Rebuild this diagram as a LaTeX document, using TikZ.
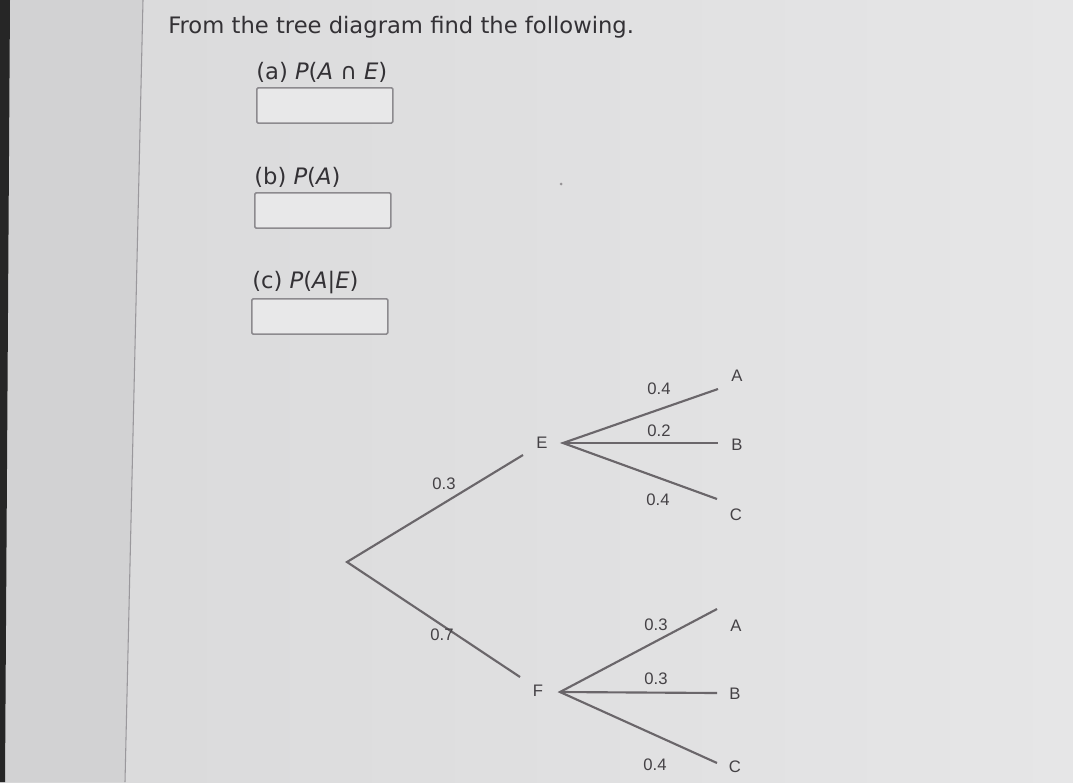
\documentclass[tikz,border=0pt]{standalone}
\usepackage{fontspec}
\setmainfont{DejaVu Sans}
\newfontfamily\treefont{Liberation Sans}
\definecolor{txt}{HTML}{333135}
\definecolor{treeline}{HTML}{6A666A}
\definecolor{treetxt}{HTML}{444145}
\definecolor{boxline}{HTML}{8C8A8E}
\definecolor{bgleft}{HTML}{D2D2D3}
\definecolor{bgmid}{HTML}{D9D9DA}
\definecolor{bgright}{HTML}{E6E6E7}
\begin{document}
\begin{tikzpicture}[x=0.75pt,y=-0.75pt,
  qtext/.style={anchor=west,inner sep=0pt,text=txt,font=\fontsize{17}{20}\selectfont},
  ansbox/.style={draw=boxline,line width=1.2pt,rounded corners=1pt,fill=bgmid!60!white,minimum width=102pt,minimum height=26.5pt,inner sep=0pt,anchor=north west},
  lbl/.style={inner sep=0pt,text=treetxt,font=\treefont\fontsize{12.5}{14}\selectfont},
  branch/.style={draw=treeline,line width=1.6pt}]
\useasboundingbox (0,0) rectangle (1073,782);
% background
\shade[left color=bgmid,right color=bgright] (0,0) rectangle (1073,782);
\fill[bgleft] (0,0) -- (143,0) -- (125,782) -- (0,782) -- cycle;
\draw[boxline!80!bgleft,line width=0.8pt] (143,0) -- (125,782);
\fill[black!85] (0,0) -- (10,0) -- (5,782) -- (0,782) -- cycle;
% questions
\node[qtext] (title) at (168,27) {From the tree diagram find the following.};
\node[qtext] (qa) at (256,72) {(a) \textit{P}(\textit{A} ∩ \textit{E})};
\node[ansbox] (ba) at (256,87) {};
\node[qtext] (qb) at (254,177) {(b) \textit{P}(\textit{A})};
\node[ansbox] (bb) at (254,192) {};
\node[qtext] (qc) at (252,283) {(c) \textit{P}(\textit{A}|\textit{E})};
\node[ansbox] (bc) at (251,298) {};
\fill[treeline!70] (561,184) circle (1.5);
% tree coordinates
\coordinate (root) at (347,562);
\coordinate (Ein) at (523,455);
\coordinate (Eout) at (563,443);
\coordinate (EA) at (718,389);
\coordinate (EB) at (718,443);
\coordinate (EC) at (717,499);
\coordinate (Fin) at (520,677);
\coordinate (Fout) at (560,692);
\coordinate (FA) at (717,609);
\coordinate (FB) at (717,693);
\coordinate (FC) at (717,763);
% branches
\draw[branch] (Ein) -- (root) -- (Fin);
\draw[branch] (EA) -- (Eout) -- (EC);
\draw[branch] (Eout) -- (EB);
\draw[branch] (FA) -- (Fout) -- (FC);
\draw[branch] (Fout) -- (FB);
% labels
\node[lbl] (E) at (542,443) {E};
\node[lbl] (F) at (538,691) {F};
\node[lbl] (EAl) at (737,376) {A};
\node[lbl] (EBl) at (737,445) {B};
\node[lbl] (ECl) at (736,515) {C};
\node[lbl] (FAl) at (736,626) {A};
\node[lbl] (FBl) at (735,694) {B};
\node[lbl] (FCl) at (735,767) {C};
\node[lbl] (pE) at (444,484) {0.3};
\node[lbl] (pF) at (442,635) {0.7};
\node[lbl] (pEA) at (659,389) {0.4};
\node[lbl] (pEB) at (659,431) {0.2};
\node[lbl] (pEC) at (658,500) {0.4};
\node[lbl] (pFA) at (656,625) {0.3};
\node[lbl] (pFB) at (656,679) {0.3};
\node[lbl] (pFC) at (655,765) {0.4};
\end{tikzpicture}
\end{document}
